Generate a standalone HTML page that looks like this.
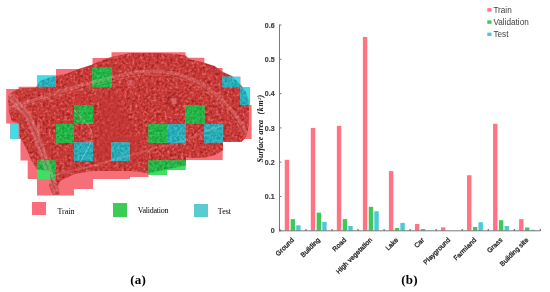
<!DOCTYPE html>
<html><head><meta charset="utf-8"><style>
html,body{margin:0;padding:0;background:#fff;}
body{width:550px;height:292px;position:relative;overflow:hidden;font-family:"Liberation Sans",Arial,sans-serif;}
.abs{position:absolute;}
svg text{font-family:"Liberation Sans",Arial,sans-serif;}
.yl{font-size:7px;font-weight:bold;fill:#3a3a3a;stroke:#3a3a3a;stroke-width:0.15px;}
.xl{font-size:6.7px;fill:#222;stroke:#222;stroke-width:0.3px;letter-spacing:0.1px;}
.lg{font-size:8.2px;fill:#404040;}
.yt{font-family:"Liberation Serif","Times New Roman",serif !important;font-size:8px;font-weight:bold;font-style:italic;fill:#111;}
.cap{position:absolute;font-family:"Liberation Serif","Times New Roman",serif;font-weight:bold;font-size:13px;color:#000;letter-spacing:0.3px;}
.leg{position:absolute;font-family:"Liberation Serif","Times New Roman",serif;font-size:8px;color:#000;}
</style></head><body>
<svg class="abs" style="left:0;top:0" width="550" height="292" viewBox="0 0 550 292">
<defs><clipPath id="imgc"><polygon points="8.0,95.0 14.0,91.0 20.0,88.5 36.0,87.5 40.0,81.0 48.0,78.0 56.0,76.0 66.0,74.0 77.0,69.5 92.5,64.4 100.0,61.0 111.0,57.0 122.0,55.0 130.0,53.0 160.0,53.0 175.0,54.0 185.5,55.5 190.0,59.5 202.0,62.0 214.6,66.0 223.0,72.0 232.0,76.0 241.0,85.0 246.0,92.0 248.5,100.0 249.0,110.0 248.5,125.0 247.5,133.0 245.0,138.5 241.6,141.8 223.0,142.0 223.0,150.0 215.0,155.0 205.0,157.5 190.0,158.0 186.0,157.0 186.0,165.2 167.0,169.3 148.5,173.5 140.0,172.0 130.0,171.0 93.0,171.0 75.0,174.0 66.0,178.0 60.0,181.0 58.0,186.0 60.0,195.0 53.0,195.0 49.0,186.0 50.0,180.0 50.0,171.0 37.0,169.5 35.0,166.0 31.0,160.0 27.0,150.0 22.0,141.0 19.5,136.0 19.5,124.0 12.0,121.0 9.0,112.0"/></clipPath>
<clipPath id="tilec"><rect x="92.5" y="67.8" width="19.2" height="19.4"/><rect x="74" y="105" width="19" height="19"/><rect x="56" y="124" width="18" height="18.7"/><rect x="185.5" y="105" width="19" height="19"/><rect x="148.5" y="124" width="18.5" height="18.7"/><rect x="37" y="160.5" width="19" height="19"/><rect x="148.5" y="160.5" width="18.5" height="14.5"/><rect x="167" y="160.5" width="18.5" height="9.3"/><rect x="37" y="75.5" width="19" height="11"/><rect x="10.3" y="123.6" width="8.2" height="15.4"/><rect x="74" y="142.5" width="19" height="18.5"/><rect x="111.4" y="142.5" width="18.5" height="18.5"/><rect x="167" y="124" width="18.5" height="19"/><rect x="204" y="124" width="18.7" height="18.5"/><rect x="222.5" y="76.7" width="17.8" height="10.5"/><rect x="240.3" y="87" width="9.5" height="18"/></clipPath>
<filter id="nzl" x="0" y="0" width="1" height="1" color-interpolation-filters="sRGB"><feTurbulence type="fractalNoise" baseFrequency="0.37" numOctaves="3" seed="4"/><feColorMatrix type="matrix" values="0 0 0 0 1  0 0 0 0 0.55  0 0 0 0 0.52  3.0 0 0 0 -1.6"/><feGaussianBlur stdDeviation="0.3"/></filter>
<filter id="nzd" x="0" y="0" width="1" height="1" color-interpolation-filters="sRGB"><feTurbulence type="fractalNoise" baseFrequency="0.37" numOctaves="3" seed="4"/><feColorMatrix type="matrix" values="0 0 0 0 0.45  0 0 0 0 0.05  0 0 0 0 0.05  -3.0 0 0 0 1.4"/><feGaussianBlur stdDeviation="0.3"/></filter>
<filter id="pblur" x="-0.2" y="-0.2" width="1.4" height="1.4"><feGaussianBlur stdDeviation="1.8"/></filter>
<filter id="nzn" x="0" y="0" width="1" height="1" color-interpolation-filters="sRGB"><feTurbulence type="fractalNoise" baseFrequency="0.4" numOctaves="2" seed="9"/><feColorMatrix type="matrix" values="2.5 0 0 0 -0.75  2.5 0 0 0 -0.75  2.5 0 0 0 -0.75  0 0 0 0 1"/><feGaussianBlur stdDeviation="0.3"/></filter>
</defs>
<polygon points="6.2,89.0 18.5,89.0 18.5,86.8 37.0,86.8 37.0,75.5 56.0,75.5 56.0,69.0 92.5,69.0 92.5,58.0 111.5,58.0 111.5,52.3 185.5,52.3 185.5,57.8 204.4,57.8 204.4,68.0 222.5,68.0 222.5,76.7 240.3,76.7 240.3,87.0 250.0,87.0 250.0,105.0 251.6,105.0 251.6,139.0 241.6,139.0 241.6,142.0 222.7,142.0 222.7,160.0 185.5,160.0 185.5,170.0 167.0,170.0 167.0,175.0 148.5,175.0 148.5,177.0 130.0,177.0 130.0,179.0 93.0,179.0 93.0,189.0 74.0,189.0 74.0,195.5 37.0,195.5 37.0,179.0 27.7,179.0 27.7,160.5 20.5,160.5 20.5,139.0 10.3,139.0 10.3,123.6 6.2,123.6" fill="#f66e78"/>
<polygon points="8.0,95.0 14.0,91.0 20.0,88.5 36.0,87.5 40.0,81.0 48.0,78.0 56.0,76.0 66.0,74.0 77.0,69.5 92.5,64.4 100.0,61.0 111.0,57.0 122.0,55.0 130.0,53.0 160.0,53.0 175.0,54.0 185.5,55.5 190.0,59.5 202.0,62.0 214.6,66.0 223.0,72.0 232.0,76.0 241.0,85.0 246.0,92.0 248.5,100.0 249.0,110.0 248.5,125.0 247.5,133.0 245.0,138.5 241.6,141.8 223.0,142.0 223.0,150.0 215.0,155.0 205.0,157.5 190.0,158.0 186.0,157.0 186.0,165.2 167.0,169.3 148.5,173.5 140.0,172.0 130.0,171.0 93.0,171.0 75.0,174.0 66.0,178.0 60.0,181.0 58.0,186.0 60.0,195.0 53.0,195.0 49.0,186.0 50.0,180.0 50.0,171.0 37.0,169.5 35.0,166.0 31.0,160.0 27.0,150.0 22.0,141.0 19.5,136.0 19.5,124.0 12.0,121.0 9.0,112.0" fill="#c83a38"/>
<g clip-path="url(#imgc)"><rect x="0" y="45" width="260" height="155" filter="url(#nzd)" opacity="0.65"/><rect x="0" y="45" width="260" height="155" filter="url(#nzl)" opacity="0.7"/></g>
<g clip-path="url(#imgc)"><polygon points="104.0,96.0 110.0,94.0 116.0,96.0 120.0,104.0 126.0,114.0 129.0,124.0 134.0,132.0 138.0,140.0 142.0,150.0 144.0,160.0 130.0,162.0 110.0,163.0 96.0,162.0 95.0,150.0 96.0,138.0 97.0,124.0 99.0,110.0 101.0,101.0" fill="#c23436" filter="url(#pblur)" opacity="0.5"/></g>
<rect x="92.5" y="67.8" width="19.2" height="19.4" fill="#40de62"/>
<rect x="92.5" y="67.8" width="19.2" height="19.4" fill="#18bc3e" clip-path="url(#imgc)"/>
<rect x="74" y="105" width="19" height="19" fill="#40de62"/>
<rect x="74" y="105" width="19" height="19" fill="#18bc3e" clip-path="url(#imgc)"/>
<rect x="56" y="124" width="18" height="18.7" fill="#40de62"/>
<rect x="56" y="124" width="18" height="18.7" fill="#18bc3e" clip-path="url(#imgc)"/>
<rect x="185.5" y="105" width="19" height="19" fill="#40de62"/>
<rect x="185.5" y="105" width="19" height="19" fill="#18bc3e" clip-path="url(#imgc)"/>
<rect x="148.5" y="124" width="18.5" height="18.7" fill="#40de62"/>
<rect x="148.5" y="124" width="18.5" height="18.7" fill="#18bc3e" clip-path="url(#imgc)"/>
<rect x="37" y="160.5" width="19" height="19" fill="#40de62"/>
<rect x="37" y="160.5" width="19" height="19" fill="#18bc3e" clip-path="url(#imgc)"/>
<rect x="148.5" y="160.5" width="18.5" height="14.5" fill="#40de62"/>
<rect x="148.5" y="160.5" width="18.5" height="14.5" fill="#18bc3e" clip-path="url(#imgc)"/>
<rect x="167" y="160.5" width="18.5" height="9.3" fill="#40de62"/>
<rect x="167" y="160.5" width="18.5" height="9.3" fill="#18bc3e" clip-path="url(#imgc)"/>
<rect x="37" y="75.5" width="19" height="11" fill="#40dce8"/>
<rect x="37" y="75.5" width="19" height="11" fill="#1eb4c2" clip-path="url(#imgc)"/>
<rect x="10.3" y="123.6" width="8.2" height="15.4" fill="#40dce8"/>
<rect x="10.3" y="123.6" width="8.2" height="15.4" fill="#1eb4c2" clip-path="url(#imgc)"/>
<rect x="74" y="142.5" width="19" height="18.5" fill="#40dce8"/>
<rect x="74" y="142.5" width="19" height="18.5" fill="#1eb4c2" clip-path="url(#imgc)"/>
<rect x="111.4" y="142.5" width="18.5" height="18.5" fill="#40dce8"/>
<rect x="111.4" y="142.5" width="18.5" height="18.5" fill="#1eb4c2" clip-path="url(#imgc)"/>
<rect x="167" y="124" width="18.5" height="19" fill="#40dce8"/>
<rect x="167" y="124" width="18.5" height="19" fill="#1eb4c2" clip-path="url(#imgc)"/>
<rect x="204" y="124" width="18.7" height="18.5" fill="#40dce8"/>
<rect x="204" y="124" width="18.7" height="18.5" fill="#1eb4c2" clip-path="url(#imgc)"/>
<rect x="222.5" y="76.7" width="17.8" height="10.5" fill="#40dce8"/>
<rect x="222.5" y="76.7" width="17.8" height="10.5" fill="#1eb4c2" clip-path="url(#imgc)"/>
<rect x="240.3" y="87" width="9.5" height="18" fill="#40dce8"/>
<rect x="240.3" y="87" width="9.5" height="18" fill="#1eb4c2" clip-path="url(#imgc)"/>
<g clip-path="url(#imgc)"><g clip-path="url(#tilec)"><rect x="0" y="45" width="260" height="155" filter="url(#nzn)" opacity="0.13"/></g></g>
<g clip-path="url(#imgc)"><circle cx="173.5" cy="101" r="6" fill="none" stroke="#8c1c22" stroke-width="2.2" opacity="0.45"/><rect x="171.5" y="98" width="5" height="6" fill="#e8808a" opacity="0.55"/><ellipse cx="131" cy="83" rx="4" ry="3.2" fill="#e8808a" opacity="0.4"/><ellipse cx="38.5" cy="128" rx="1.6" ry="6" fill="#e8808a" opacity="0.45"/></g>
<g clip-path="url(#imgc)" fill="none" stroke-linecap="round">
<path d="M9.6,108 C30,101 60,91 91,82.8 S140,70 160,71.5 S196,79 210,90 S236,112 247,134" stroke="#ffc8c8" stroke-width="3.6" opacity="0.2"/>
<path d="M9.6,111.5 C30,104.5 60,94.5 91,86.3 S140,73.5 160,75 S194,82.5 207.5,93 S233,114 244,136" stroke="#ffd0d0" stroke-width="1.0" opacity="0.16"/>
<path d="M10,96 L28,116 L36,135 L43,154 L48,170 L53,184 L58,197" stroke="#ffd0d0" stroke-width="7.0" opacity="0.22"/>
<path d="M12,97 L28,116 L36,135 L43,154 L48,170 L53,184 L58,197" stroke="#8a2040" stroke-width="1.2" opacity="0.3"/>
<path d="M52,176 C75,170 100,164 130,155.5 S150,148.5 166,145.5 S195,136 206,131 S218,127 224,125.5" stroke="#ffd0d0" stroke-width="2.2" opacity="0.18"/>
<path d="M74,110 C80,116 86,122 90,128 S92,140 88,148 S82,158 80,162" stroke="#ffffff" stroke-width="1.0" opacity="0.3"/>
<path d="M72,91 L79,120" stroke="#ff2030" stroke-width="1.0" opacity="0.5"/>
</g>
<rect x="284.75" y="159.80" width="4.4" height="71.00" fill="#ff7384"/>
<rect x="290.60" y="219.14" width="4.4" height="11.66" fill="#3cc85a"/>
<rect x="296.20" y="225.31" width="4.4" height="5.49" fill="#4cc8d8"/>
<rect x="310.79" y="127.90" width="4.4" height="102.90" fill="#ff7384"/>
<rect x="316.64" y="212.62" width="4.4" height="18.18" fill="#3cc85a"/>
<rect x="322.24" y="221.88" width="4.4" height="8.92" fill="#4cc8d8"/>
<rect x="336.83" y="125.84" width="4.4" height="104.96" fill="#ff7384"/>
<rect x="342.68" y="219.14" width="4.4" height="11.66" fill="#3cc85a"/>
<rect x="348.28" y="226.00" width="4.4" height="4.80" fill="#4cc8d8"/>
<rect x="362.87" y="37.01" width="4.4" height="193.79" fill="#ff7384"/>
<rect x="368.72" y="206.79" width="4.4" height="24.01" fill="#3cc85a"/>
<rect x="374.32" y="211.25" width="4.4" height="19.55" fill="#4cc8d8"/>
<rect x="388.91" y="171.12" width="4.4" height="59.68" fill="#ff7384"/>
<rect x="394.76" y="228.06" width="4.4" height="2.74" fill="#3cc85a"/>
<rect x="400.36" y="222.91" width="4.4" height="7.89" fill="#4cc8d8"/>
<rect x="414.95" y="223.94" width="4.4" height="6.86" fill="#ff7384"/>
<rect x="420.80" y="229.09" width="4.4" height="1.72" fill="#3cc85a"/>
<rect x="440.99" y="227.37" width="4.4" height="3.43" fill="#ff7384"/>
<rect x="467.03" y="175.23" width="4.4" height="55.57" fill="#ff7384"/>
<rect x="472.88" y="227.03" width="4.4" height="3.77" fill="#3cc85a"/>
<rect x="478.48" y="222.23" width="4.4" height="8.58" fill="#4cc8d8"/>
<rect x="493.07" y="123.78" width="4.4" height="107.02" fill="#ff7384"/>
<rect x="498.92" y="220.17" width="4.4" height="10.63" fill="#3cc85a"/>
<rect x="504.52" y="226.00" width="4.4" height="4.80" fill="#4cc8d8"/>
<rect x="519.11" y="219.14" width="4.4" height="11.66" fill="#ff7384"/>
<rect x="524.96" y="227.51" width="4.4" height="3.29" fill="#3cc85a"/>
<rect x="530.56" y="229.77" width="4.4" height="1.03" fill="#4cc8d8"/>
<line x1="279.5" y1="24.5" x2="279.5" y2="231.3" stroke="#7a7a7a" stroke-width="1"/>
<line x1="279.0" y1="230.8" x2="540.5" y2="230.8" stroke="#7a7a7a" stroke-width="1"/>
<line x1="279.5" y1="230.80" x2="281.5" y2="230.80" stroke="#7a7a7a" stroke-width="1"/>
<text x="274.6" y="233.40" text-anchor="end" class="yl">0</text>
<line x1="279.5" y1="196.50" x2="281.5" y2="196.50" stroke="#7a7a7a" stroke-width="1"/>
<text x="274.6" y="199.10" text-anchor="end" class="yl">0.1</text>
<line x1="279.5" y1="162.20" x2="281.5" y2="162.20" stroke="#7a7a7a" stroke-width="1"/>
<text x="274.6" y="164.80" text-anchor="end" class="yl">0.2</text>
<line x1="279.5" y1="127.90" x2="281.5" y2="127.90" stroke="#7a7a7a" stroke-width="1"/>
<text x="274.6" y="130.50" text-anchor="end" class="yl">0.3</text>
<line x1="279.5" y1="93.60" x2="281.5" y2="93.60" stroke="#7a7a7a" stroke-width="1"/>
<text x="274.6" y="96.20" text-anchor="end" class="yl">0.4</text>
<line x1="279.5" y1="59.30" x2="281.5" y2="59.30" stroke="#7a7a7a" stroke-width="1"/>
<text x="274.6" y="61.90" text-anchor="end" class="yl">0.5</text>
<line x1="279.5" y1="25.00" x2="281.5" y2="25.00" stroke="#7a7a7a" stroke-width="1"/>
<text x="274.6" y="27.60" text-anchor="end" class="yl">0.6</text>
<line x1="279.90" y1="230.8" x2="279.90" y2="229.0" stroke="#505050" stroke-width="1"/>
<line x1="305.94" y1="230.8" x2="305.94" y2="229.0" stroke="#505050" stroke-width="1"/>
<line x1="331.98" y1="230.8" x2="331.98" y2="229.0" stroke="#505050" stroke-width="1"/>
<line x1="358.02" y1="230.8" x2="358.02" y2="229.0" stroke="#505050" stroke-width="1"/>
<line x1="384.06" y1="230.8" x2="384.06" y2="229.0" stroke="#505050" stroke-width="1"/>
<line x1="410.10" y1="230.8" x2="410.10" y2="229.0" stroke="#505050" stroke-width="1"/>
<line x1="436.14" y1="230.8" x2="436.14" y2="229.0" stroke="#505050" stroke-width="1"/>
<line x1="462.18" y1="230.8" x2="462.18" y2="229.0" stroke="#505050" stroke-width="1"/>
<line x1="488.22" y1="230.8" x2="488.22" y2="229.0" stroke="#505050" stroke-width="1"/>
<line x1="514.26" y1="230.8" x2="514.26" y2="229.0" stroke="#505050" stroke-width="1"/>
<line x1="540.30" y1="230.8" x2="540.30" y2="229.0" stroke="#505050" stroke-width="1"/>
<text transform="translate(294.52,240.30) rotate(-45)" text-anchor="end" class="xl">Ground</text>
<text transform="translate(320.56,240.30) rotate(-45)" text-anchor="end" class="xl">Building</text>
<text transform="translate(346.60,240.30) rotate(-45)" text-anchor="end" class="xl">Road</text>
<text transform="translate(372.64,240.30) rotate(-45)" text-anchor="end" class="xl">High vegetation</text>
<text transform="translate(398.68,240.30) rotate(-45)" text-anchor="end" class="xl">Lake</text>
<text transform="translate(424.72,240.30) rotate(-45)" text-anchor="end" class="xl">Car</text>
<text transform="translate(450.76,240.30) rotate(-45)" text-anchor="end" class="xl">Playground</text>
<text transform="translate(476.80,240.30) rotate(-45)" text-anchor="end" class="xl">Farmland</text>
<text transform="translate(502.84,240.30) rotate(-45)" text-anchor="end" class="xl">Grass</text>
<text transform="translate(528.88,240.30) rotate(-45)" text-anchor="end" class="xl">Building site</text>
<rect x="487.3" y="8.20" width="4.2" height="3.4" fill="#ff7384"/>
<text x="493.4" y="12.80" class="lg">Train</text>
<rect x="487.3" y="20.40" width="4.2" height="3.4" fill="#3cc85a"/>
<text x="493.4" y="25.00" class="lg">Validation</text>
<rect x="487.3" y="32.60" width="4.2" height="3.4" fill="#4cc8d8"/>
<text x="493.4" y="37.20" class="lg">Test</text>
<text id="yt" transform="translate(263.3,162.4) rotate(-90)" class="yt"><tspan id="yt1">Surface area</tspan><tspan id="yt2" dx="5.5" letter-spacing="0.6">(km</tspan><tspan dy="-2.2" font-size="4.5">2</tspan><tspan dy="2.2">)</tspan></text>
</svg>
<div class="abs" style="left:31.8px;top:201.8px;width:14.3px;height:13.5px;background:#fc6c7a"></div>
<div class="leg" style="left:57.5px;top:206.7px">Train</div>
<div class="abs" style="left:112.5px;top:202.5px;width:14.3px;height:14px;background:#3ccc55"></div>
<div class="leg" style="left:137.8px;top:205.8px;letter-spacing:-0.25px">Validation</div>
<div class="abs" style="left:193.9px;top:203.7px;width:14.2px;height:13.2px;background:#5acbd0"></div>
<div class="leg" style="left:217.8px;top:206.5px">Test</div>
<div class="cap" style="left:130.2px;top:272px">(a)</div>
<div class="cap" style="left:401.2px;top:272px">(b)</div>
</body></html>
